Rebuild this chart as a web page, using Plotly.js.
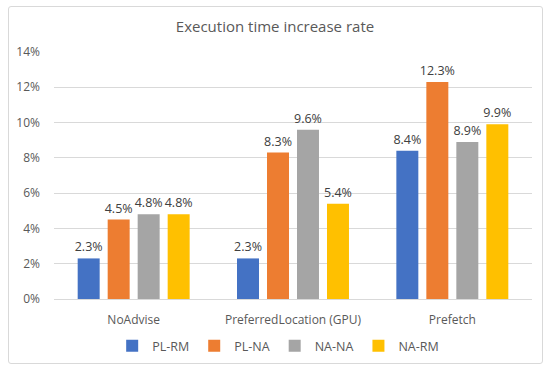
<!DOCTYPE html>
<html>
<head>
<meta charset="utf-8">
<script src="https://cdn.plot.ly/plotly-3.0.1.min.js"></script>
<style>
  html, body { margin: 0; padding: 0; background: #ffffff; }
  #frame { position: absolute; left: 8px; top: 6px; width: 535px; height: 358px; border: 1px solid #d9d9d9; border-radius: 3px; box-sizing: border-box; }
  #chart { position: absolute; left: 0; top: 0; width: 550px; height: 373px; }
</style>
</head>
<body>
<div id="frame"></div>
<div id="chart"></div>
<script>
const categories = ["NoAdvise", "PreferredLocation (GPU)", "Prefetch"];
const seriesNames = ["PL-RM", "PL-NA", "NA-NA", "NA-RM"];
const plRM = [2.3, 2.3, 8.4];
const plNA = [4.5, 8.3, 12.3];
const naNA = [4.8, 9.6, 8.9];
const naRM = [4.8, 5.4, 9.9];
const yTickVals = [0, 2, 4, 6, 8, 10, 12, 14];
const yTickText = ["0%", "2%", "4%", "6%", "8%", "10%", "12%", "14%"];

const colors = ["#4472C4", "#ED7D31", "#A5A5A5", "#FFC000"];
const allSeries = [plRM, plNA, naNA, naRM];

const font = "Open Sans, Liberation Sans, sans-serif";
const traces = allSeries.map((vals, i) => ({
  type: "bar",
  name: seriesNames[i],
  x: categories,
  y: vals,
  marker: { color: colors[i] },
  text: vals.map(v => v.toFixed(1) + "%"),
  textposition: "outside",
  constraintext: "none",
  textfont: { family: font, size: 12.5, color: "#404040" },
  cliponaxis: false,
  hoverinfo: "none"
}));

const layout = {
  width: 550,
  height: 373,
  margin: { l: 54, r: 18, t: 52, b: 71 },
  paper_bgcolor: "rgba(0,0,0,0)",
  plot_bgcolor: "rgba(0,0,0,0)",
  barmode: "group",
  bargap: 0.247,
  bargroupgap: 0.267,
  title: {
    text: "Execution time increase rate",
    font: { family: font, size: 15, color: "#595959" },
    x: 0.5, xref: "container", xanchor: "center",
    y: 0.928, yref: "container", yanchor: "middle"
  },
  xaxis: {
    type: "category",
    showgrid: false,
    showline: true,
    linecolor: "#d9d9d9",
    linewidth: 1,
    ticks: "",
    tickangle: 0,
    tickfont: { family: font, size: 12, color: "#595959" },
    ticklabelstandoff: 10
  },
  yaxis: {
    range: [0, 14],
    tickvals: yTickVals,
    ticktext: yTickText,
    showgrid: true,
    gridcolor: "#d9d9d9",
    gridwidth: 1,
    zeroline: false,
    showline: false,
    ticks: "",
    tickfont: { family: font, size: 12, color: "#595959" },
    ticklabelstandoff: 13
  },
  showlegend: true,
  legend: {
    orientation: "h",
    x: 0.469, xanchor: "center",
    y: -0.13, yanchor: "top",
    font: { family: font, size: 12.5, color: "#595959" },
    itemwidth: 30,
    tracegroupgap: 0
  }
};

Plotly.newPlot("chart", traces, layout, { staticPlot: true });
</script>
</body>
</html>
